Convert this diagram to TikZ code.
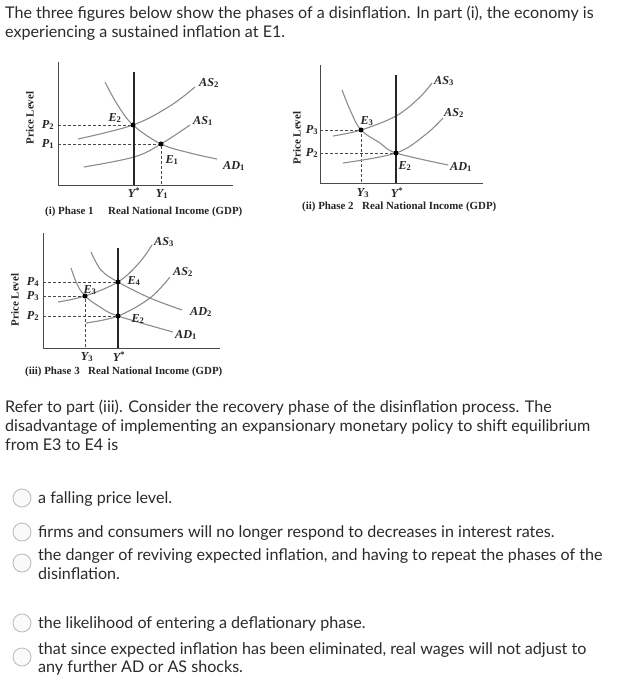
\documentclass[tikz,border=0pt]{standalone}
\usepackage{fontspec}
\setmainfont{Lato}
\newfontfamily\gfont{Liberation Serif}
\definecolor{txt}{HTML}{2B2B2B}
\definecolor{cgray}{HTML}{8C8C8C}
\definecolor{agray}{HTML}{4A4A4A}
\newcommand\lsub[1]{\textsubscript{\upshape #1}}
\newcommand\lsup[1]{\textsuperscript{\upshape #1}}
\begin{document}
\begin{tikzpicture}[x=1pt,y=-1pt,
 curve/.style={cgray, line width=1.1pt},
 ystar/.style={black!85, line width=1.8pt},
 axisl/.style={agray, line width=0.9pt},
 dashl/.style={agray, line width=0.7pt, dash pattern=on 3pt off 2pt},
 dotm/.style={circle, fill=black, inner sep=0pt, minimum size=5pt},
 lab/.style={font=\gfont\bfseries\itshape\fontsize{12.2}{13}\selectfont, inner sep=0pt, text=black!85},
 capt/.style={font=\gfont\bfseries\fontsize{10.9}{12}\selectfont, inner sep=0pt, anchor=west, text=black!85},
 plab/.style={font=\gfont\bfseries\fontsize{10.9}{12}\selectfont, inner sep=0pt, rotate=90, text=black!85},
 para/.style={font=\fontsize{16.1}{19}\selectfont, text=txt, anchor=base west, inner sep=0pt},
 radio/.style={circle, draw=gray!55, fill=gray!4, minimum size=18pt, inner sep=0pt, line width=0.8pt}]
\fill[white] (0,0) rectangle (622,700);
\useasboundingbox (0,0) rectangle (622,700);

% ---------- intro text ----------
\node[para] (t1) at (5,19) {The three figures below show the phases of a disinflation. In part (i), the economy is};
\node[para] (t2) at (5,38) {experiencing a sustained inflation at E1.};

% ---------- Graph 1 ----------
\coordinate (g1o) at (58,185);
\coordinate (g1top) at (58,62);
\coordinate (g1right) at (233,185);
\coordinate (g1e2) at (133,125);
\coordinate (g1e1) at (161,144);
\draw[axisl] (g1top) -- (g1o) -- (g1right);
\draw[dashl] (g1e2 -| g1o) -- (g1e2);
\draw[dashl] (g1e1 -| g1o) -- (g1e1) -- (g1e1 |- g1o);
\draw[curve] plot[smooth, tension=0.6] coordinates {(105,82) (117,104) (133,125) (161,144) (190,153) (217,159)};
\draw[curve] plot[smooth, tension=0.6] coordinates {(78,139) (133,125) (170,106) (195,87)};
\draw[curve] plot[smooth, tension=0.6] coordinates {(84,167) (134,157) (161,144) (190,125)};
\coordinate (g1ys) at (134,72);
\draw[ystar] (g1ys) -- (g1ys |- g1o);
\node[dotm] (g1d2) at (g1e2) {};
\node[dotm] (g1d1) at (g1e1) {};
\node[lab] (g1as2) at (209,83) {AS\lsub{2}};
\node[lab] (g1as1) at (203,121) {AS\lsub{1}};
\node[lab] (g1ad1) at (234,166) {AD\lsub{1}};
\node[lab] (g1le2) at (115,118) {E\lsub{2}};
\node[lab] (g1le1) at (172,160) {E\lsub{1}};
\node[lab] (g1p2) at (48,125) {P\lsub{2}};
\node[lab] (g1p1) at (48,144) {P\lsub{1}};
\node[lab] (g1yst) at (134,193) {Y\lsup{*}};
\node[lab] (g1y1) at (162,194) {Y\lsub{1}};
\node[capt] (g1c1) at (45,212) {(i) Phase 1};
\node[capt] (g1c2) at (108,212) {Real National Income (GDP)};
\node[plab] (g1pl) at (30,118) {Price Level};

% ---------- Graph 2 ----------
\coordinate (g2o) at (320,183);
\coordinate (g2top) at (320,65);
\coordinate (g2right) at (483,183);
\coordinate (g2e3) at (361,130);
\coordinate (g2e2) at (396,153);
\draw[axisl] (g2top) -- (g2o) -- (g2right);
\draw[dashl] (g2e3 -| g2o) -- (g2e3) -- (g2e3 |- g2o);
\draw[dashl] (g2e2 -| g2o) -- (g2e2);
\draw[curve] plot[smooth, tension=0.6] coordinates {(342,90) (351,112) (361,130) (380,143) (396,153) (448,165)};
\draw[curve] plot[smooth, tension=0.6] coordinates {(333,136) (361,130) (396,116) (419,98) (432,83)};
\draw[curve] plot[smooth, tension=0.6] coordinates {(343,163) (396,153) (425,135) (443,118)};
\coordinate (g2ys) at (396,75);
\draw[ystar] (g2ys) -- (g2ys |- g2o);
\node[dotm] (g2d3) at (g2e3) {};
\node[dotm] (g2d2) at (g2e2) {};
\node[lab] (g2as3) at (444,81) {AS\lsub{3}};
\node[lab] (g2as2) at (454,113) {AS\lsub{2}};
\node[lab] (g2ad1) at (461,167) {AD\lsub{1}};
\node[lab] (g2le3) at (367,121) {E\lsub{3}};
\node[lab] (g2le2) at (405,166) {E\lsub{2}};
\node[lab] (g2p3) at (312,130) {P\lsub{3}};
\node[lab] (g2p2) at (312,153) {P\lsub{2}};
\node[lab] (g2y3) at (363,193) {Y\lsub{3}};
\node[lab] (g2yst) at (397,193) {Y\lsup{*}};
\node[capt] (g2c1) at (302,207) {(ii) Phase 2};
\node[capt] (g2c2) at (362,207) {Real National Income (GDP)};
\node[plab] (g2pl) at (297,138) {Price Level};

% ---------- Graph 3 ----------
\coordinate (g3o) at (43,348);
\coordinate (g3top) at (43,233);
\coordinate (g3right) at (220,348);
\coordinate (g3e4) at (118,282);
\coordinate (g3e3) at (85,296);
\coordinate (g3e2) at (118,316);
\draw[axisl] (g3top) -- (g3o) -- (g3right);
\draw[dashl] (g3e4 -| g3o) -- (g3e4);
\draw[dashl] (g3e3 -| g3o) -- (g3e3) -- (g3e3 |- g3o);
\draw[dashl] (g3e2 -| g3o) -- (g3e2);
\draw[curve] plot[smooth, tension=0.6] coordinates {(58,302) (85,296) (118,282) (139,263) (152,245)};
\draw[curve] plot[smooth, tension=0.6] coordinates {(86,323) (118,316) (150,298) (170,277)};
\draw[curve] plot[smooth, tension=0.6] coordinates {(71,268) (77,284) (85,296) (100,307) (118,316) (173,332)};
\draw[curve] plot[smooth, tension=0.6] coordinates {(91,252) (101,270) (118,282) (150,298) (182,310)};
\coordinate (g3ys) at (118,248);
\draw[ystar] (g3ys) -- (g3ys |- g3o);
\node[dotm] (g3d4) at (g3e4) {};
\node[dotm] (g3d3) at (g3e3) {};
\node[dotm] (g3d2) at (g3e2) {};
\node[lab] (g3as3) at (164,242) {AS\lsub{3}};
\node[lab] (g3as2) at (183,272) {AS\lsub{2}};
\node[lab] (g3ad2) at (201,312) {AD\lsub{2}};
\node[lab] (g3ad1) at (186,335) {AD\lsub{1}};
\node[lab] (g3le4) at (134,281) {E\lsub{4}};
\node[lab] (g3le3) at (90,290) {E\lsub{3}};
\node[lab] (g3le2) at (138,319) {E\lsub{2}};
\node[lab] (g3p4) at (33,282) {P\lsub{4}};
\node[lab] (g3p3) at (33,296) {P\lsub{3}};
\node[lab] (g3p2) at (33,316) {P\lsub{2}};
\node[lab] (g3y3) at (87,357) {Y\lsub{3}};
\node[lab] (g3yst) at (119,357) {Y\lsup{*}};
\node[capt] (g3c1) at (25,372) {(iii) Phase 3};
\node[capt] (g3c2) at (88,372) {Real National Income (GDP)};
\node[plab] (g3pl) at (15,300) {Price Level};

% ---------- question ----------
\node[para] (q1) at (5,412) {Refer to part (iii). Consider the recovery phase of the disinflation process. The};
\node[para] (q2) at (5,431) {disadvantage of implementing an expansionary monetary policy to shift equilibrium};
\node[para] (q3) at (5,450) {from E3 to E4 is};

% ---------- options ----------
\node[radio] (r1) at (22,498) {};
\node[para] (a1) at (38,503) {a falling price level.};
\node[radio] (r2) at (22,532) {};
\node[para] (a2) at (38,537) {firms and consumers will no longer respond to decreases in interest rates.};
\node[radio] (r3) at (22,563) {};
\node[para] (a3a) at (38,560) {the danger of reviving expected inflation, and having to repeat the phases of the};
\node[para] (a3b) at (38,579) {disinflation.};
\node[radio] (r4) at (22,623) {};
\node[para] (a4) at (38,628) {the likelihood of entering a deflationary phase.};
\node[radio] (r5) at (22,657) {};
\node[para] (a5a) at (38,654) {that since expected inflation has been eliminated, real wages will not adjust to};
\node[para] (a5b) at (38,672) {any further AD or AS shocks.};
\end{tikzpicture}
\end{document}
